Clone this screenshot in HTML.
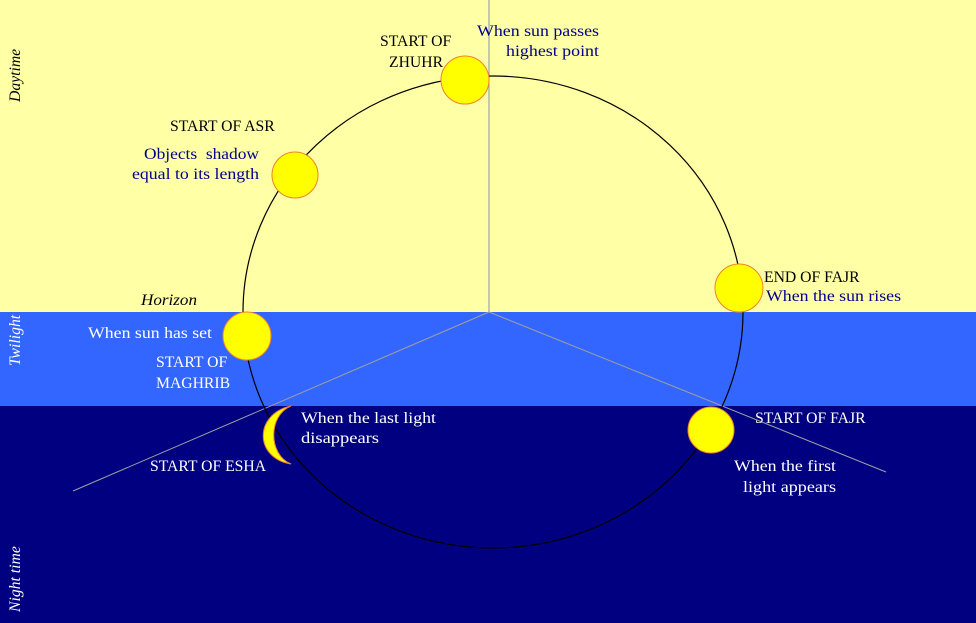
<!DOCTYPE html>
<html><head><meta charset="utf-8"><style>
html,body{margin:0;padding:0;width:976px;height:623px;overflow:hidden}
</style></head><body>
<svg width="976" height="623" viewBox="0 0 976 623" xmlns="http://www.w3.org/2000/svg" font-family="'Liberation Serif', serif" font-size="15.7">
<rect x="0" y="0" width="976" height="312" fill="#FFFFA6"/>
<rect x="0" y="312" width="976" height="94" fill="#3366FF"/>
<rect x="0" y="406" width="976" height="217" fill="#000080"/>
<line x1="489" y1="0" x2="489" y2="312" stroke="#8a8fc0" stroke-width="1"/>
<line x1="489" y1="312" x2="73" y2="491" stroke="#a0a0a0" stroke-width="1"/>
<line x1="489" y1="312" x2="886" y2="472" stroke="#a0a0a0" stroke-width="1"/>
<ellipse cx="493" cy="312" rx="250" ry="236" fill="none" stroke="#000" stroke-width="1.2"/>
<g fill="#FFFF00" stroke="#F08030" stroke-width="1">
<circle cx="465" cy="80" r="24"/>
<circle cx="295" cy="175" r="23"/>
<circle cx="739" cy="288" r="24"/>
<circle cx="247" cy="336" r="24"/>
<circle cx="711" cy="430" r="23"/>
<path d="M291,406 C254,414 254,458 291,464 C268,455 268,415 291,406 Z"/>
</g>
<g font-style="italic" fill="#000">
<text transform="translate(20,102) rotate(-90)">Daytime</text>
<text x="141" y="305" textLength="56" lengthAdjust="spacingAndGlyphs">Horizon</text>
</g>
<text transform="translate(20,366) rotate(-90)" font-style="italic" fill="#fff">Twilight</text>
<text transform="translate(20,612) rotate(-90)" font-style="italic" fill="#fff">Night time</text>
<g fill="#000">
<text x="380" y="46">START OF</text>
<text x="389" y="67">ZHUHR</text>
<text x="170" y="131">START OF ASR</text>
<text x="764" y="282">END OF FAJR</text>
</g>
<g fill="#00008B" lengthAdjust="spacingAndGlyphs">
<text x="477" y="36" textLength="122" lengthAdjust="spacingAndGlyphs">When sun passes</text>
<text x="506" y="56" textLength="93" lengthAdjust="spacingAndGlyphs">highest point</text>
<text x="144" y="159" textLength="115" lengthAdjust="spacingAndGlyphs">Objects &#160;shadow</text>
<text x="132" y="179" textLength="127" lengthAdjust="spacingAndGlyphs">equal to its length</text>
<text x="766" y="301" textLength="135" lengthAdjust="spacingAndGlyphs">When the sun rises</text>
</g>
<g fill="#fff">
<text x="88" y="338" textLength="124" lengthAdjust="spacingAndGlyphs">When sun has set</text>
<text x="156" y="367">START OF</text>
<text x="156" y="388">MAGHRIB</text>
<text x="301" y="423" textLength="135" lengthAdjust="spacingAndGlyphs">When the last light</text>
<text x="301" y="443" textLength="78" lengthAdjust="spacingAndGlyphs">disappears</text>
<text x="150" y="471">START OF ESHA</text>
<text x="755" y="423">START OF FAJR</text>
<text x="734" y="471" textLength="102" lengthAdjust="spacingAndGlyphs">When the first</text>
<text x="743" y="492" textLength="93" lengthAdjust="spacingAndGlyphs">light appears</text>
</g>
</svg>
</body></html>
